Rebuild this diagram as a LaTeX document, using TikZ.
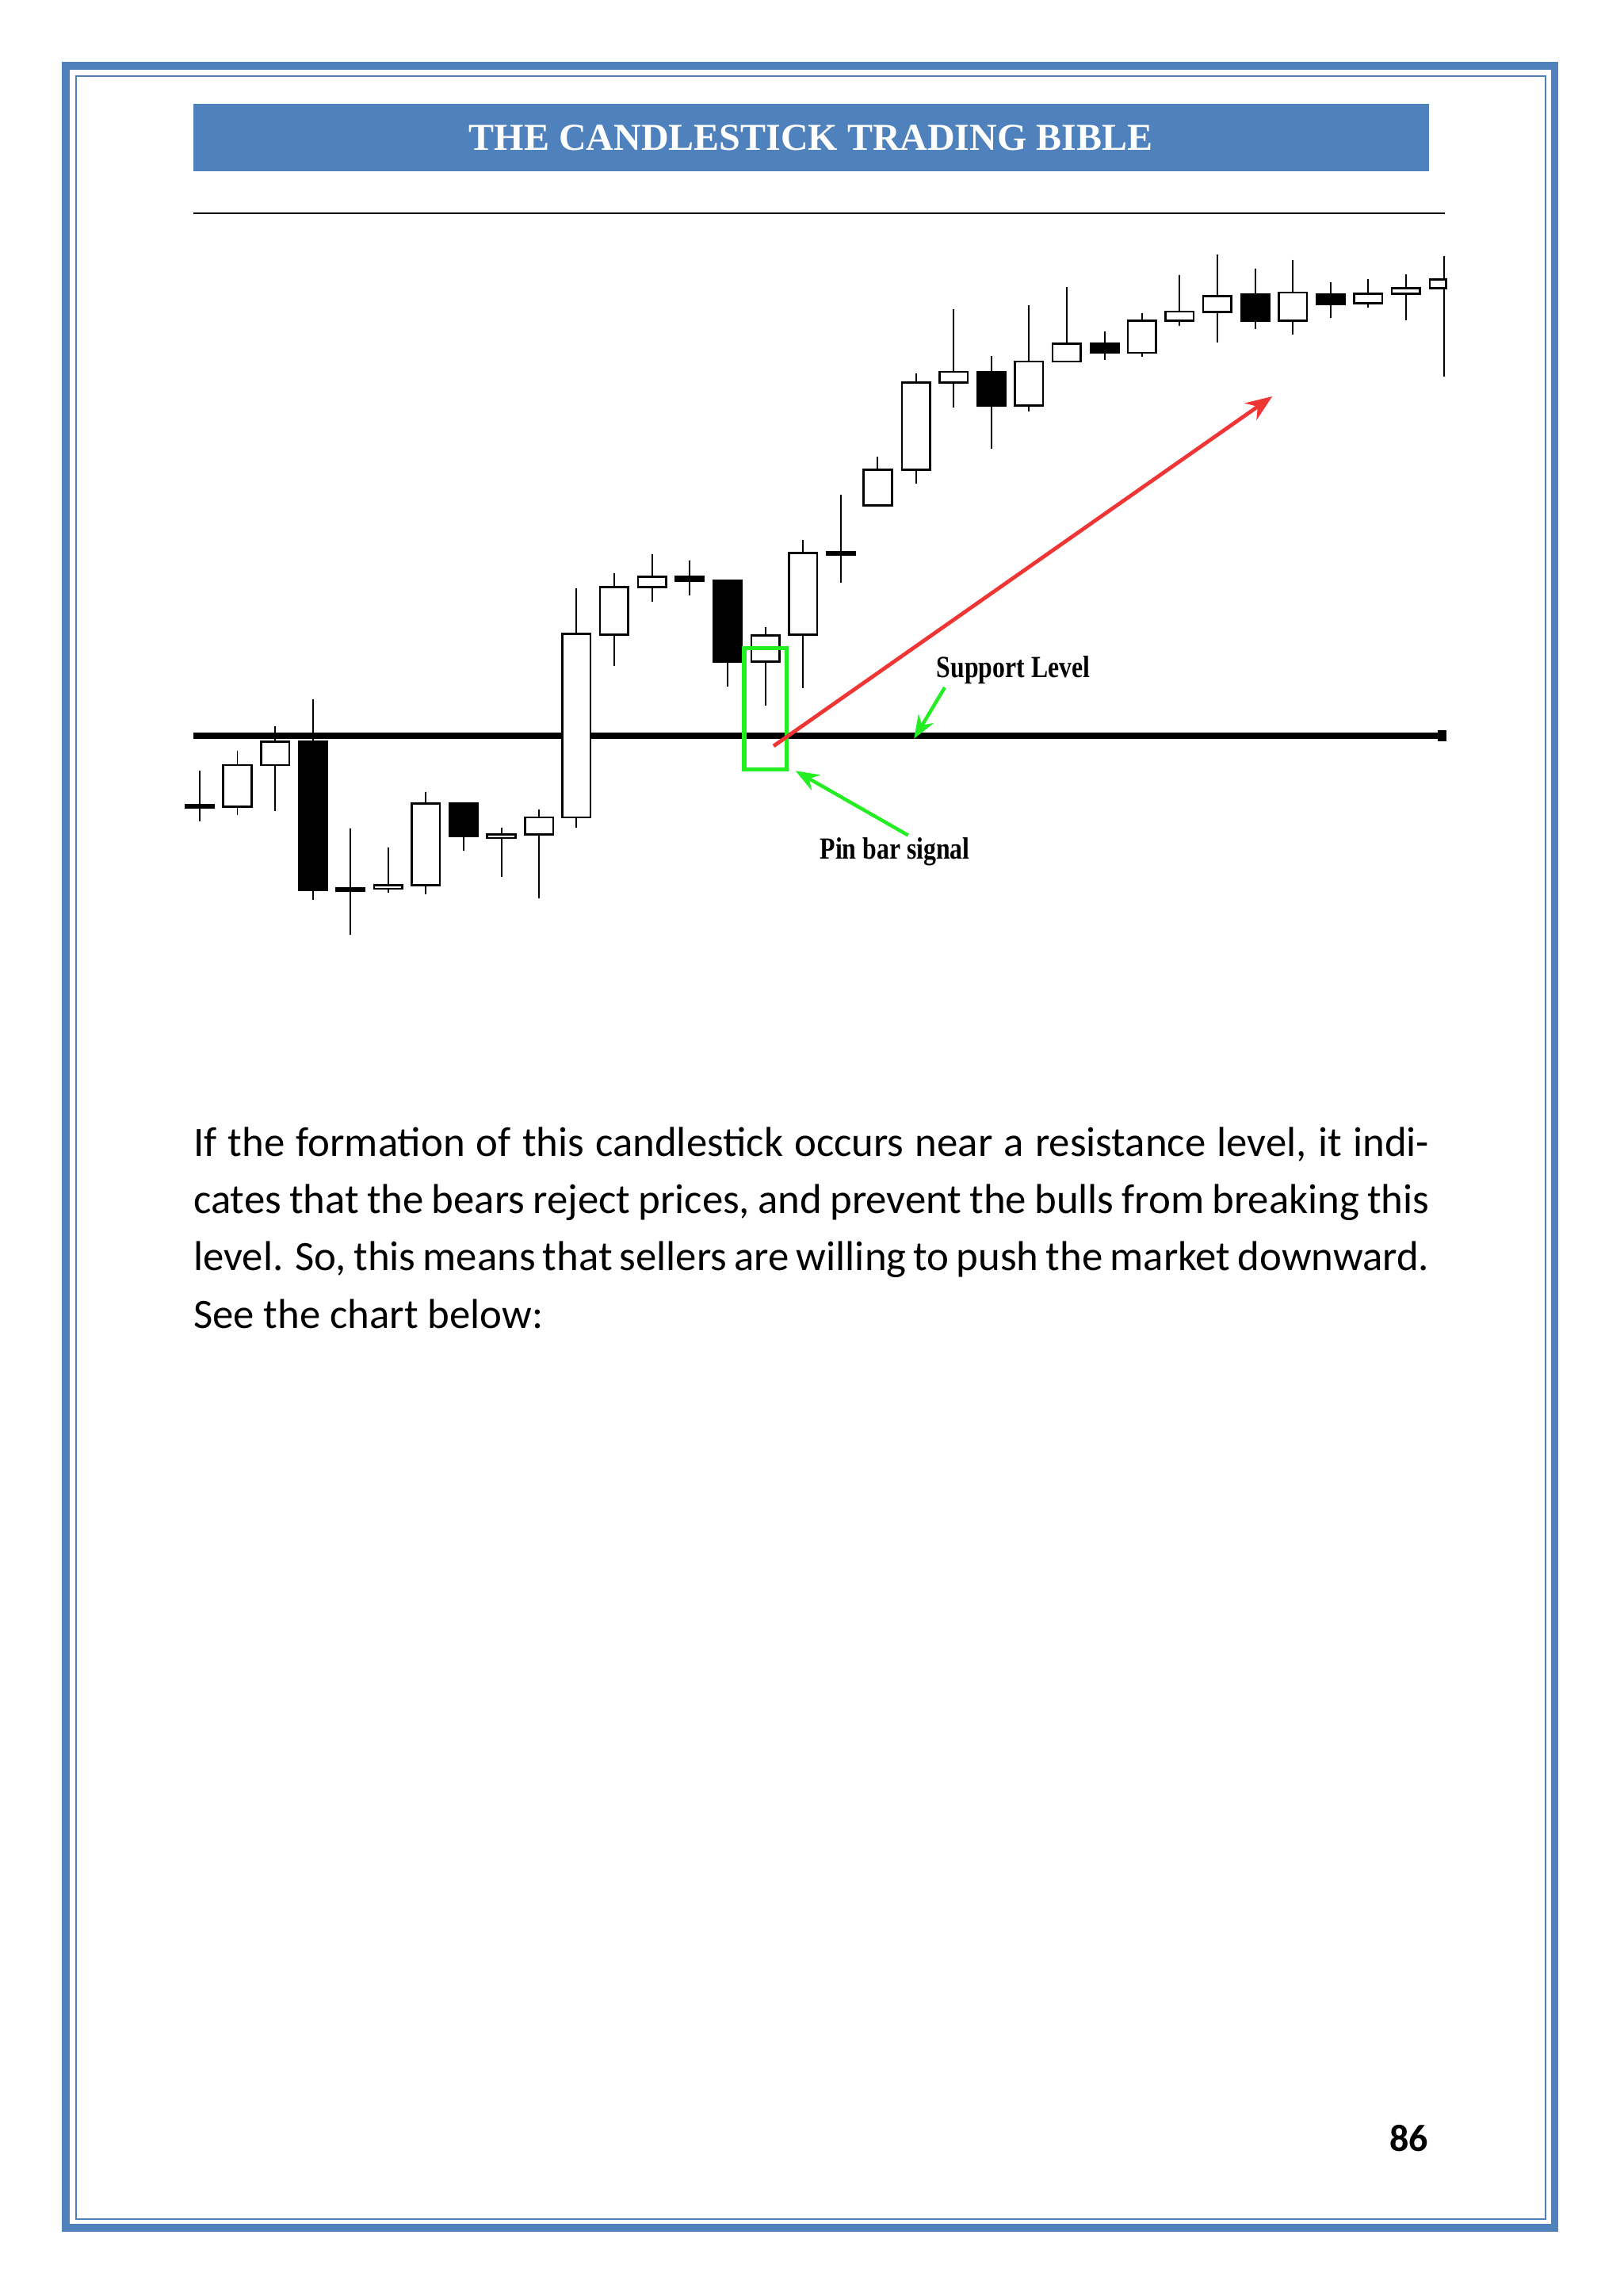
\documentclass[tikz,border=0pt]{standalone}
\usepackage{fontspec}
\setmainfont{Liberation Serif}
\newfontfamily\bodyfont{Carlito}
\usetikzlibrary{arrows.meta}
\definecolor{bibleblue}{HTML}{4F81BD}
\definecolor{signalgreen}{HTML}{22EE22}
\definecolor{trendred}{HTML}{F03535}
\tikzset{
  wick/.style={line width=0.5pt},
  body/.style={line width=0.7pt},
  chartlabel/.style={font=\bfseries\fontsize{10.5}{12}\selectfont, xscale=0.82, inner sep=0pt},
}
\newcommand{\candle}[6]{%
  \draw[wick] (#1,#2) -- (#1,#5);
  \draw[body, fill=#6] (#1-\hw,#3) rectangle (#1+\hw,#4);}
\begin{document}
\begin{tikzpicture}[x=0.5pt, y=-0.5pt]
      \useasboundingbox (0,0) rectangle (1110,1569.6);
      \fill[white] (0,0) rectangle (1110,1569.6);

      % page frame
      \draw[bibleblue, line width=2.5pt] (45,45) rectangle (1063,1523);
      \draw[bibleblue, line width=0.5pt] (52,52) rectangle (1057,1517);

      % header
      \node (header) [fill=bibleblue, minimum width=422.5pt, minimum height=23pt, inner sep=0pt,
        text=white, font=\bfseries\fontsize{13}{15}\selectfont] at (554.5,94) {THE CANDLESTICK TRADING BIBLE};
      \draw[line width=0.5pt] (132,146) -- (988,146);

      % support level
      \draw[line width=2pt] (132,503) -- (985,503);
      \fill (983,499) rectangle (989,507);

      % candles, left part
      \begin{scope}[shift={(124.7,162.6)}, scale=0.3112]
        \def\hw{31}
        \foreach \x/\h/\t/\b/\l/\f in {38/1170/1245/1251/1282/black, 121/1127/1158/1250/1268/white,
            204/1072/1107/1158/1260/white, 287/1013/1107/1433/1455/black, 369/1297/1429/1435/1530/black,
            452/1340/1422/1430/1438/white, 535/1218/1243/1422/1442/white, 618/1240/1243/1315/1347/black,
            701/1295/1310/1318/1403/white, 784/1256/1273/1311/1451/white, 866/770/870/1273/1296/white,
            949/736/767/872/941/white, 1032/694/744/767/800/white, 1115/709/744/754/785/black,
            1198/750/752/932/986/black, 1281/855/873/931/1027/white, 1364/664/692/872/990/white,
            1447/565/690/696/758/black}
          {\candle{\x}{\h}{\t}{\b}{\l}{\f}}
      \end{scope}

      % candles, right part
      \begin{scope}[shift={(596.2,162.6)}, scale=0.2627]
        \def\hw{37}
        \foreach \x/\h/\t/\b/\l/\f in {15/570/604/696/700/white, 115/352/376/604/640/white,
            213/185/349/376/441/white, 311/308/349/436/548/black, 409/175/322/436/452/white,
            507/128/275/322/322/white, 606/243/275/299/317/black, 703/196/216/299/309/white,
            801/97/192/216/228/white, 899/43/152/193/273/white, 998/80/148/217/238/black,
            1096/57/142/216/252/white, 1194/115/148/172/209/black, 1292/107/146/170/181/white,
            1390/95/131/146/215/white}
          {\candle{\x}{\h}{\t}{\b}{\l}{\f}}
        \draw[wick] (1489,47) -- (1489,360);
        \draw[body, fill=white] (1452,108) rectangle (1495,131);
      \end{scope}

      % pin bar highlight and trend
      \draw[signalgreen, line width=1.5pt] (509,443) rectangle (538,526);
      \coordinate (trendstart) at (529,510);
      \coordinate (trendend) at (870,271);
      \draw[trendred, line width=1.3pt, -{Stealth[length=9pt, width=7pt]}] (trendstart) -- (trendend);

      % labels
      \node (support) [chartlabel] at (693,458) {Support Level};
      \coordinate (supporttip) at (625,505);
      \draw[signalgreen, line width=1.2pt, -{Stealth[length=8pt, width=6pt]}] (646,470) -- (supporttip);
      \node (pinbar) [chartlabel] at (612,582) {Pin bar signal};
      \coordinate (pinbartip) at (544,527);
      \draw[signalgreen, line width=1.2pt, -{Stealth[length=8pt, width=6pt]}] (621,571) -- (pinbartip);

      % text
      \node (para) [anchor=north west, inner sep=0pt, text width=422.5pt, align=justify,
        font=\bodyfont\fontsize{14.3}{19.6}\selectfont] at (132,770)
        {If the formation of this candlestick occurs near a resistance level, it indicates that the bears reject prices, and prevent the bulls from breaking this level. So, this means that sellers are willing to push the market downward. See the chart below:};
      \node (pagenum) [anchor=east, inner sep=0pt, font=\bodyfont\bfseries\fontsize{13}{15}\selectfont] at (977,1462) {86};
\end{tikzpicture}
\end{document}
